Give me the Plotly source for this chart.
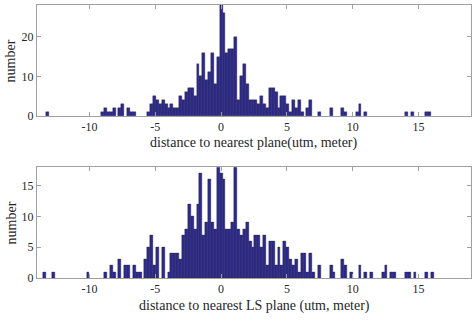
import plotly.graph_objects as go

# histogram bin width (distance units)
bin_width = 0.22

# ---- top panel: distance to nearest plane ----
top_bins = [-60, -41, -40, -39, -38, -37, -35, -34, -32, -31, -30,
            -25, -24, -23, -22, -21, -20, -19, -18, -17, -16, -15, -14, -13, -12,
            -11, -10, -9, -8, -7, -6, -5, -4, -3, -2, -1,
            0, 1, 2, 3, 4, 5, 6, 7, 8, 9, 10, 11, 12, 13, 14, 15, 16, 17, 18, 19,
            20, 21, 22, 23, 24, 25, 26, 27, 28, 30, 31, 34, 38, 42, 43, 47, 48, 50,
            64, 66, 71, 72]
top_counts = [1, 1, 2, 1, 1, 2, 2, 3, 2, 1, 1,
              1, 3, 5, 4, 3, 4, 3, 2, 3, 2, 2, 5, 4, 6,
              7, 7, 5, 13, 10, 16, 9, 11, 16, 8, 15,
              28, 26, 16, 17, 17, 20, 4, 10, 13, 8, 4, 4, 4, 3, 5, 3, 2, 7, 7, 6,
              2, 5, 5, 3, 1, 4, 2, 4, 1, 2, 4, 1, 2, 2, 1, 1, 3, 1,
              1, 1, 1, 1]

# ---- bottom panel: distance to nearest LS plane ----
bot_bins = [-61, -58, -46, -40, -38, -37, -35, -33, -32, -30, -29, -28,
            -26, -25, -24, -23, -22, -20, -18, -17, -16, -15, -14, -13, -12,
            -11, -10, -9, -8, -7, -6, -5, -4, -3, -2, -1,
            0, 1, 2, 3, 4, 5, 6, 7, 8, 9, 10, 11, 12, 13, 14, 15, 16, 17, 18, 19,
            20, 21, 22, 23, 24, 25, 26, 27, 28, 29, 30, 31, 32, 34, 38, 39, 42, 43,
            45, 48, 50, 52, 56, 57, 59, 60, 64, 65, 67, 71, 73]
bot_counts = [1, 1, 1, 1, 2, 1, 3, 2, 2, 2, 1, 1,
              3, 5, 7, 2, 5, 5, 1, 4, 4, 4, 3, 7, 8,
              12, 10, 8, 12, 17, 7, 9, 16, 9, 8, 18,
              17, 16, 8, 8, 9, 18, 8, 7, 8, 9, 6, 5, 7, 7, 5, 7, 2, 6, 6, 2,
              5, 2, 6, 5, 3, 2, 3, 1, 4, 4, 1, 4, 1, 2, 2, 1, 3, 2,
              1, 2, 1, 1, 1, 2, 1, 1, 1, 1, 1, 1, 1]

x_tickvals = [-10, -5, 0, 5, 10, 15]
x_ticktext = ["-10", "-5", "0", "5", "10", "15"]
top_yticks = [0, 10, 20]
bot_yticks = [0, 5, 10, 15]

top_xlabel = "distance to nearest plane(utm, meter)"
bot_xlabel = "distance to nearest LS plane (utm, meter)"
ylabel = "number"

bar_color = "#2e2b84"
edge_color = "#201d68"
axis_color = "#a0a0a0"
font_family = "Liberation Serif, Times New Roman, serif"

fig = go.Figure()
fig.add_trace(go.Bar(
    x=[b * bin_width for b in top_bins], y=top_counts, width=bin_width,
    marker=dict(color=bar_color, line=dict(color=edge_color, width=0.4)),
    xaxis="x", yaxis="y", showlegend=False))
fig.add_trace(go.Bar(
    x=[b * bin_width for b in bot_bins], y=bot_counts, width=bin_width,
    marker=dict(color=bar_color, line=dict(color=edge_color, width=0.4)),
    xaxis="x2", yaxis="y2", showlegend=False))

common_axis = dict(showline=True, linecolor=axis_color, linewidth=1, mirror="ticks",
                   ticks="inside", ticklen=4, tickwidth=1, tickcolor=axis_color,
                   showgrid=False, zeroline=False,
                   tickfont=dict(family=font_family, size=12, color="#262626"))

top_dom = [0.5934, 1.0]
bot_dom = [0.0, 0.4055]

fig.update_layout(
    width=474, height=322,
    margin=dict(l=37, r=3, t=5, b=44),
    paper_bgcolor="white", plot_bgcolor="white",
    bargap=0,
    xaxis=dict(domain=[0, 1], range=[-14, 19], anchor="y",
               tickvals=x_tickvals, ticktext=x_ticktext, **common_axis),
    yaxis=dict(domain=top_dom, range=[0, 28], anchor="x",
               tickvals=top_yticks, **common_axis),
    xaxis2=dict(domain=[0, 1], range=[-14, 19], anchor="y2",
                tickvals=x_tickvals, ticktext=x_ticktext, **common_axis),
    yaxis2=dict(domain=bot_dom, range=[0, 18], anchor="x2",
                tickvals=bot_yticks, **common_axis),
)

label_font = dict(family=font_family, size=14, color="#262626")
fig.add_annotation(text=top_xlabel, xref="paper", yref="paper", x=0.5, y=0.4945,
                   xanchor="center", yanchor="middle", showarrow=False, font=label_font)
fig.add_annotation(text=bot_xlabel, xref="paper", yref="paper", x=0.5, y=-0.102,
                   xanchor="center", yanchor="middle", showarrow=False, font=label_font)
fig.add_annotation(text=ylabel, xref="paper", yref="paper", x=-0.06,
                   y=(top_dom[0] + top_dom[1]) / 2, textangle=-90,
                   xanchor="center", yanchor="middle", showarrow=False, font=label_font)
fig.add_annotation(text=ylabel, xref="paper", yref="paper", x=-0.058,
                   y=(bot_dom[0] + bot_dom[1]) / 2, textangle=-90,
                   xanchor="center", yanchor="middle", showarrow=False, font=label_font)

fig.write_html("out.html")
